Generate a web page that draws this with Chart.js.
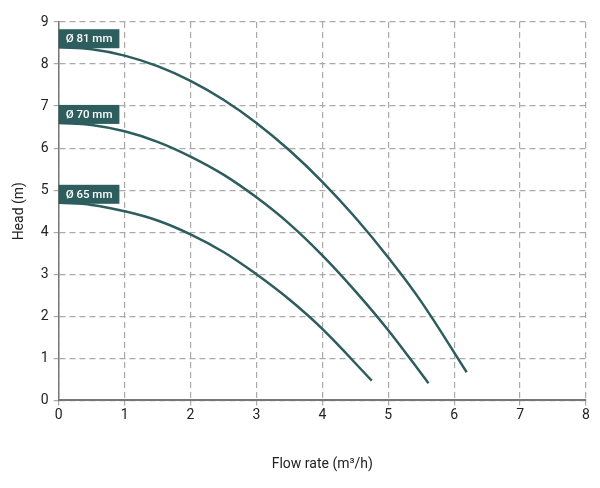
<!DOCTYPE html>
<html>
<head>
<meta charset="utf-8">
<script src="https://cdn.jsdelivr.net/npm/chart.js@4"></script>
<style>
  body { margin: 0; background: #fff; }
  #wrap { width: 600px; height: 488px; }
</style>
</head>
<body>
<div id="wrap"><canvas id="chart"></canvas></div>
<script>
// Pump curves, head (m) against flow (m3/h)
const flow81 = [0, 0.5, 1, 1.5, 2, 2.5, 3, 3.5, 4, 4.5, 5, 5.5, 6.19];
const head81 = [8.4, 8.35, 8.2, 7.95, 7.6, 7.15, 6.6, 5.95, 5.2, 4.35, 3.4, 2.35, 0.67];
const flow70 = [0, 0.5, 1, 1.5, 2, 2.5, 3, 3.5, 4, 4.5, 5, 5.61];
const head70 = [6.6, 6.55, 6.4, 6.15, 5.8, 5.37, 4.83, 4.2, 3.45, 2.6, 1.67, 0.41];
const flow65 = [0, 0.5, 1, 1.5, 2, 2.5, 3, 3.5, 4, 4.75];
const head65 = [4.7, 4.65, 4.5, 4.28, 3.95, 3.53, 3.0, 2.4, 1.7, 0.47];
const seriesNames = ["Ø 81 mm", "Ø 70 mm", "Ø 65 mm"];
const xTicks = [0, 1, 2, 3, 4, 5, 6, 7, 8];
const yTicks = [0, 1, 2, 3, 4, 5, 6, 7, 8, 9];

const lineColor = "#2e5d5e";

function toPoints(xs, ys) {
  return xs.map(function (x, i) { return { x: x, y: ys[i] }; });
}

// draws the name tag just above the first point of each curve
const tagPlugin = {
  id: "tags",
  afterDatasetsDraw: function (chart) {
    var ctx = chart.ctx;
    ctx.save();
    ctx.font = "500 11.5px Roboto";
    chart.data.datasets.forEach(function (ds, i) {
      var pt = chart.getDatasetMeta(i).data[0];
      var w = ctx.measureText(ds.label).width + 14;
      var h = 19;
      ctx.fillStyle = lineColor;
      ctx.fillRect(pt.x, pt.y - h + 1, w, h);
      ctx.fillStyle = "#fff";
      ctx.textBaseline = "middle";
      ctx.fillText(ds.label, pt.x + 7, pt.y - h / 2 + 1.5);
    });
    ctx.restore();
  }
};

var ctx = document.getElementById("chart").getContext("2d");
var myChart = new Chart(ctx, {
  type: "line",
  data: {
    datasets: [
      { label: seriesNames[0], data: toPoints(flow81, head81) },
      { label: seriesNames[1], data: toPoints(flow70, head70) },
      { label: seriesNames[2], data: toPoints(flow65, head65) },
    ].map(function (d) {
      d.borderColor = lineColor;
      d.borderWidth = 2.5;
      d.pointRadius = 0;
      d.tension = 0.4;
      d.fill = false;
      return d;
    }),
  },
  options: {
    responsive: true,
    maintainAspectRatio: false,
    animation: false,
    layout: { padding: { left: 7, right: 14, top: 22, bottom: 11 } },
    plugins: {
      legend: { display: false },
      tooltip: { enabled: false },
    },
    scales: {
      x: {
        type: "linear",
        min: 0,
        max: 8,
        afterBuildTicks: function (axis) {
          axis.ticks = xTicks.map(function (v) { return { value: v }; });
        },
        ticks: { color: "#222", font: { family: "Roboto", size: 14 }, padding: 2 },
        grid: { color: "#aaa", lineWidth: 1.2, tickLength: 5 },
        border: { color: "#777", width: 2, dash: [6, 4] },
        title: {
          display: true,
          text: "Flow rate (m³/h)",
          color: "#222",
          font: { family: "Roboto", size: 14 },
          padding: { top: 30 },
        },
      },
      y: {
        type: "linear",
        min: 0,
        max: 9,
        afterBuildTicks: function (axis) {
          axis.ticks = yTicks.map(function (v) { return { value: v }; });
        },
        ticks: { color: "#222", font: { family: "Roboto", size: 14 }, padding: 5 },
        grid: { color: "#aaa", lineWidth: 1.2, tickLength: 5 },
        border: { color: "#777", width: 1.5, dash: [6, 4] },
        title: {
          display: true,
          text: "Head (m)",
          color: "#222",
          font: { family: "Roboto", size: 14 },
          padding: { bottom: 8 },
        },
      },
    },
  },
  plugins: [tagPlugin],
});
</script>
</body>
</html>
